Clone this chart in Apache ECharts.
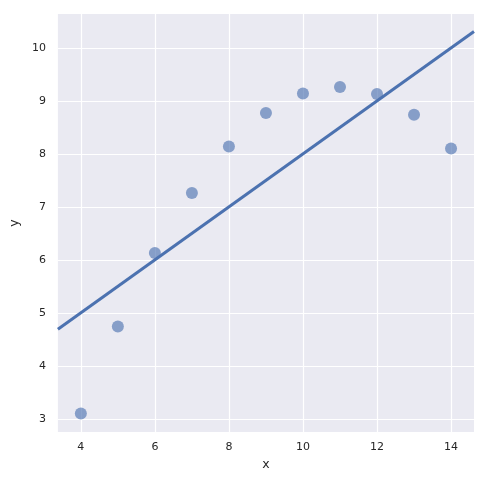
<!DOCTYPE html>
<html>
<head>
<meta charset="utf-8">
<script src="https://cdn.jsdelivr.net/npm/echarts@6/dist/echarts.min.js"></script>
<style>html,body{margin:0;padding:0;background:#fff}#chart{width:481px;height:480px}</style>
</head>
<body>
<div id="chart"></div>
<script>
const xValues = [4, 5, 6, 7, 8, 9, 10, 11, 12, 13, 14];
const yValues = [3.10, 4.74, 6.13, 7.26, 8.14, 8.77, 9.14, 9.26, 9.13, 8.74, 8.10];
const fitLine = [[3.38, 4.69], [14.62, 10.31]];
const xTicks = [4, 6, 8, 10, 12, 14];
const yTicks = [3, 4, 5, 6, 7, 8, 9, 10];

const chart = echarts.init(document.getElementById('chart'));
const labelStyle = { color: '#262626', fontSize: 11, fontFamily: 'DejaVu Sans' };

chart.setOption({
    animation: false,
    grid: {
        left: 55, right: 7, top: 14, bottom: 48,
        show: true, backgroundColor: '#EAEAF2', borderWidth: 0
    },
    xAxis: {
        type: 'value', min: 3.38, max: 14.62,
        name: 'x', nameLocation: 'middle', nameGap: 26,
        nameTextStyle: { color: '#262626', fontSize: 12.5, fontFamily: 'DejaVu Sans' },
        axisLine: { show: false },
        axisTick: { show: false, customValues: xTicks },
        axisLabel: Object.assign({ customValues: xTicks, margin: 10 }, labelStyle),
        splitLine: { lineStyle: { color: '#fff', width: 1.2 } }
    },
    yAxis: {
        type: 'value', min: 2.75, max: 10.64,
        name: 'y', nameLocation: 'middle', nameGap: 33,
        nameTextStyle: { color: '#262626', fontSize: 12.5, fontFamily: 'DejaVu Sans' },
        axisLine: { show: false },
        axisTick: { show: false, customValues: yTicks },
        axisLabel: Object.assign({ customValues: yTicks, margin: 12 }, labelStyle),
        splitLine: { lineStyle: { color: '#fff', width: 1.2 } }
    },
    series: [
        {
            type: 'scatter',
            data: xValues.map((x, i) => [x, yValues[i]]),
            symbolSize: 12,
            itemStyle: { color: 'rgba(76,114,176,0.8)' },
            z: 3
        },
        {
            type: 'line',
            data: fitLine,
            symbol: 'none',
            lineStyle: { color: '#4C72B0', width: 3 },
            z: 4
        }
    ]
});
</script>
</body>
</html>
